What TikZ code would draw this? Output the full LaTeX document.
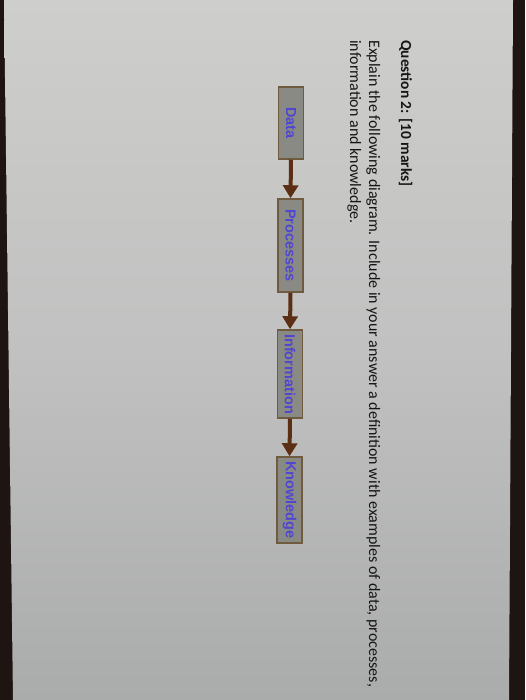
\documentclass[tikz,border=0pt]{standalone}
\usepackage{fontspec}
\setmainfont{Carlito}
\newfontfamily\boxfont{Liberation Sans}
\usetikzlibrary{arrows.meta}
\definecolor{framedark}{RGB}{30,20,18}
\definecolor{screentop}{RGB}{206,206,204}
\definecolor{screenmid}{RGB}{192,193,192}
\definecolor{screenbot}{RGB}{170,171,171}
\definecolor{inkgray}{RGB}{22,22,22}
\definecolor{boxfill}{RGB}{138,138,132}
\definecolor{boxedge}{RGB}{112,90,64}
\definecolor{boxtext}{RGB}{80,70,210}
\definecolor{arrowbrown}{RGB}{92,46,20}
\begin{document}
\begin{tikzpicture}[x=1pt,y=-1pt,
  pagetext/.style={rotate=-90,inner sep=0pt,text=inkgray,font=\fontsize{16}{16}\selectfont},
  stagebox/.style={draw=boxedge,fill=boxfill,line width=1.5pt,rotate=-90,inner sep=0pt,
    minimum height=25pt,text=boxtext,font=\boxfont\bfseries\fontsize{14.5}{14.5}\selectfont},
  flowarrow/.style={draw=arrowbrown,line width=4pt,-{Triangle[length=13pt,width=15pt]}}]
\useasboundingbox (0,0) rectangle (525,700);

%Screen and frame
\fill[framedark] (0,0) rectangle (525,700);
\shade[top color=screentop,bottom color=screenbot,middle color=screenmid]
  (4,0) -- (513,0) -- (509,700) -- (13,700) -- cycle;

% Text Node
\node[pagetext,anchor=base west,font=\bfseries\fontsize{15.4}{15.4}\selectfont] (heading) at (401,40) {Question 2: [10 marks]};
% Text Node
\node[pagetext,anchor=base west] (lineone) at (369,40) {Explain the following diagram. Include in your answer a definition with examples of data, processes,};
% Text Node
\node[pagetext,anchor=base west] (linetwo) at (350,40) {information and knowledge.};

%Shape: Rectangles
\node[stagebox,minimum width=72pt] (data) at (291,123) {Data};
\node[stagebox,minimum width=93pt] (processes) at (290.5,245.5) {Processes};
\node[stagebox,minimum width=88pt] (information) at (290,374) {Information};
\node[stagebox,minimum width=86pt] (knowledge) at (289.5,500) {Knowledge};

%Arrows
\draw[flowarrow] (data.east) -- (processes.west);
\draw[flowarrow] (processes.east) -- (information.west);
\draw[flowarrow] (information.east) -- (knowledge.west);
\end{tikzpicture}
\end{document}
